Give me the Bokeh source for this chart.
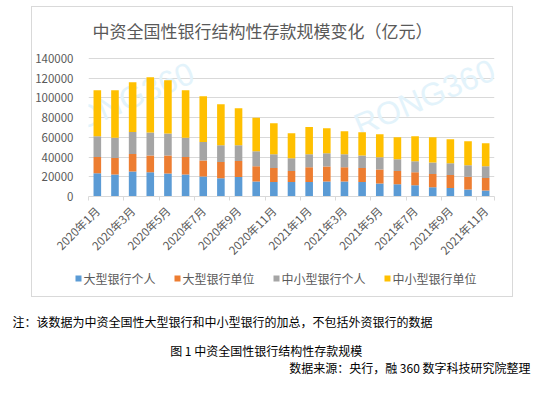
import math
from bokeh.plotting import figure
from bokeh.layouts import column, row
from bokeh.models import (ColumnDataSource, Range1d, LinearAxis, FixedTicker,
                          BasicTickFormatter, Label, Spacer)
from bokeh.core.properties import value
from bokeh.embed import file_html
from bokeh.resources import INLINE

# ---------------- data ----------------
months = ["2020年1月", "2020年2月", "2020年3月", "2020年4月", "2020年5月", "2020年6月",
          "2020年7月", "2020年8月", "2020年9月", "2020年10月", "2020年11月", "2020年12月",
          "2021年1月", "2021年2月", "2021年3月", "2021年4月", "2021年5月", "2021年6月",
          "2021年7月", "2021年8月", "2021年9月", "2021年10月", "2021年11月"]
large_personal = [23700, 22400, 25400, 24700, 23400, 22400, 20300, 18600, 19700, 15300, 14600, 14600,
                  14600, 15300, 15300, 14600, 13200, 12500, 11500, 9500, 8500, 7100, 6200]
large_unit = [16300, 16600, 17600, 17000, 18300, 17600, 16300, 16300, 16200, 15400, 14200, 11200,
              15200, 15200, 14500, 14200, 14300, 13300, 13200, 13200, 13200, 12900, 12600]
small_personal = [21000, 20700, 22400, 23300, 22300, 19700, 18700, 17000, 16000, 15200, 14000, 13000,
                  13100, 13500, 13100, 12700, 12300, 12000, 11100, 11800, 12000, 11600, 11800]
small_unit = [46800, 48100, 50600, 56000, 54000, 48100, 46400, 41700, 37600, 34000, 31500, 25400,
              27700, 25300, 23400, 23800, 23300, 22400, 25300, 25700, 24500, 24500, 23500]
series_names = ["大型银行个人", "大型银行单位", "中小型银行个人", "中小型银行单位"]
colors = ["#5B9BD5", "#ED7D31", "#A5A5A5", "#FFC000"]
y_ticks = [0, 20000, 40000, 60000, 80000, 100000, 120000, 140000]

title_text = "中资全国性银行结构性存款规模变化（亿元）"
note_text = "注：该数据为中资全国性大型银行和中小型银行的加总，不包括外资银行的数据"
caption_text = "图 1  中资全国性银行结构性存款规模"
source_text = "数据来源：央行，融 360 数字科技研究院整理"
watermark = "RONG360"

FONT = "Noto Sans CJK SC"
GRAY_TXT = "#595959"
LIGHT = "#d9d9d9"

# ---------------- chart ----------------
n = len(months)
idx = list(range(n))
src = ColumnDataSource(dict(x=idx, s0=large_personal, s1=large_unit,
                            s2=small_personal, s3=small_unit))

W, H = 480, 261
BL, BR, BT, BB = 56, 18, 0, 72
frame_h = H - BT - BB
grid_h = 138  # pixel height from 0 to the top tick
y_top = y_ticks[-1] * frame_h / grid_h

p = figure(width=W, height=H, output_backend="svg", toolbar_location=None,
           x_range=Range1d(-0.5, n - 0.5), y_range=Range1d(0, y_top),
           x_axis_location=None, y_axis_location=None,
           min_border_left=BL, min_border_right=BR, min_border_top=BT, min_border_bottom=BB)
p.outline_line_color = None
p.background_fill_color = "white"
p.border_fill_color = "white"

for wx, wy in [(35, 96), (336, 99)]:
    p.add_layout(Label(x=wx, y=wy, x_units="screen", y_units="screen", text=watermark,
                       angle=0.4, text_align="center", text_baseline="middle",
                       text_font="Liberation Sans", text_font_size="32px",
                       text_color="#e3f3fb", level="underlay"))

renderers = p.vbar_stack(["s0", "s1", "s2", "s3"], x="x", width=0.43, source=src,
                         color=colors, line_color=None)

yax = LinearAxis(ticker=FixedTicker(ticks=y_ticks, minor_ticks=[]),
                 formatter=BasicTickFormatter(use_scientific=False))
yax.axis_line_color = None
yax.major_tick_line_color = None
yax.minor_tick_line_color = None
yax.major_label_text_font = FONT
yax.major_label_text_font_size = "11.5px"
yax.major_label_text_color = GRAY_TXT
yax.major_label_standoff = 9
p.add_layout(yax, "left")

label_pos = idx[::2]
bounds = [i - 0.5 for i in idx[::2]] + [n - 0.5]
xax = LinearAxis(ticker=FixedTicker(ticks=label_pos, minor_ticks=bounds))
xax.major_label_overrides = {i: months[i] for i in label_pos}
xax.major_label_orientation = math.pi / 4
xax.axis_line_color = LIGHT
xax.major_tick_line_color = None
xax.minor_tick_line_color = LIGHT
xax.minor_tick_out = 4
xax.minor_tick_in = 0
xax.major_label_text_font = FONT
xax.major_label_text_font_size = "11.5px"
xax.major_label_text_color = GRAY_TXT
xax.major_label_standoff = 6
p.add_layout(xax, "below")

p.ygrid.ticker = FixedTicker(ticks=y_ticks, minor_ticks=[])
p.ygrid.grid_line_color = LIGHT
p.xgrid.visible = False

p.add_layout(Label(x=174, y=frame_h - 23, x_units="screen", y_units="screen", text=title_text,
                   text_align="center", text_baseline="middle", text_font=FONT,
                   text_font_size="17px", text_color=GRAY_TXT))

# ---------------- legend strip (inside the box) ----------------
LH = 28
lf = figure(width=W, height=LH, output_backend="svg", toolbar_location=None,
            x_range=Range1d(0, W), y_range=Range1d(0, LH),
            x_axis_location=None, y_axis_location=None,
            min_border_left=0, min_border_right=0, min_border_top=0, min_border_bottom=0)
lf.outline_line_color = None
lf.grid.visible = False
lf.background_fill_color = "white"
lf.border_fill_color = "white"

SQ, GAP, SPACING, CH = 6, 2, 19, 12
leg_x = []
pos = 43
for nm in series_names:
    leg_x.append(pos)
    pos += SQ + GAP + CH * len(nm) + SPACING
leg_src = ColumnDataSource(dict(sx=[x + SQ / 2 for x in leg_x], tx=[x + SQ + GAP for x in leg_x],
                                y=[LH - 10] * len(series_names), name=series_names, color=colors))
lf.rect(x="sx", y="y", width=SQ, height=SQ, color="color", line_color=None, source=leg_src)
lf.text(x="tx", y="y", text="name", source=leg_src, text_baseline="middle", text_align="left",
        text_font=value(FONT), text_font_size="12px", text_color=GRAY_TXT)

box = column(p, row(lf))
box.styles = {"border": "1px solid #d9d9d9"}

# ---------------- notes below the box ----------------
NW, NH = 533, 95
q = figure(width=NW, height=NH, output_backend="svg", toolbar_location=None,
           x_range=Range1d(0, NW), y_range=Range1d(0, NH),
           x_axis_location=None, y_axis_location=None,
           min_border_left=0, min_border_right=0, min_border_top=0, min_border_bottom=0)
q.outline_line_color = None
q.grid.visible = False
q.background_fill_color = "white"
q.border_fill_color = "white"
q.add_layout(Label(x=12, y=NH - 24, x_units="screen", y_units="screen", text=note_text,
                   text_align="left", text_baseline="middle", text_font=FONT,
                   text_font_size="12px", text_color="black"))
q.add_layout(Label(x=267, y=NH - 53, x_units="screen", y_units="screen", text=caption_text,
                   text_align="center", text_baseline="middle", text_font=FONT,
                   text_font_size="12px", text_color="black"))
q.add_layout(Label(x=530, y=NH - 70, x_units="screen", y_units="screen", text=source_text,
                   text_align="right", text_baseline="middle", text_font=FONT,
                   text_font_size="12px", text_color="black"))

layout = column(Spacer(height=6), row(Spacer(width=31), box), q)
open("out.html", "w").write(file_html(layout, INLINE))
